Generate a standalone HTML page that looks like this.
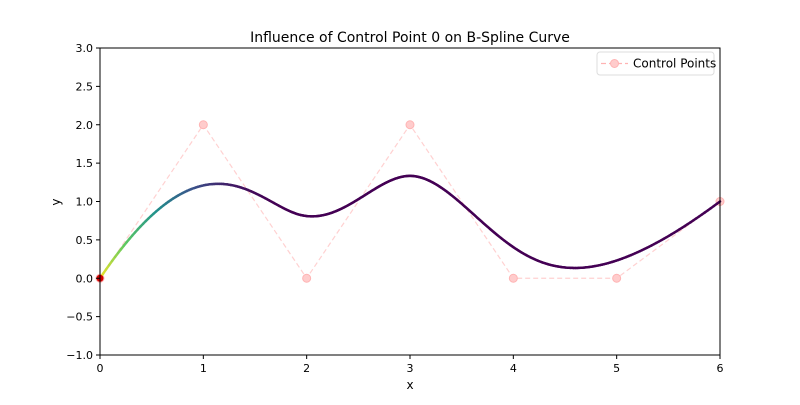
<!DOCTYPE html>
<html><head><meta charset="utf-8"><style>
body{margin:0;background:#fff;font-family:"Liberation Sans","DejaVu Sans",sans-serif}
svg text{font-family:"DejaVu Sans","Liberation Sans",sans-serif;fill:#000}
</style></head><body>
<svg id="c" width="800" height="400" viewBox="0 0 800 400" xmlns="http://www.w3.org/2000/svg">
<rect width="800" height="400" fill="#fff"/>
</svg>
<script>
const ctrlX = [0, 1, 2, 3, 4, 5, 6];
const ctrlY = [0, 2, 0, 2, 0, 0, 1];
const xTicks = [0, 1, 2, 3, 4, 5, 6];
const yTicks = [-1.0, -0.5, 0.0, 0.5, 1.0, 1.5, 2.0, 2.5, 3.0];
const xMin=0,xMax=6,yMin=-1,yMax=3;
const L=100,R=720,T=48,B=355;
const sx=v=>L+(v-xMin)/(xMax-xMin)*(R-L);
const sy=v=>B-(v-yMin)/(yMax-yMin)*(B-T);
const svg=document.getElementById('c');
const NS='http://www.w3.org/2000/svg';
function mk(tag,attrs,parent){const e=document.createElementNS(NS,tag);for(const k in attrs)e.setAttribute(k,attrs[k]);(parent||svg).appendChild(e);return e;}

// clamped cubic B-spline
const n=ctrlX.length, p=3;
const knots=[];
for(let i=0;i<=p;i++)knots.push(0);
for(let i=1;i<n-p;i++)knots.push(i/(n-p));
for(let i=0;i<=p;i++)knots.push(1);
function basis(i,k,t){
  if(k===0){
    if(t===1) return (knots[i]<1&&knots[i+1]===1)?1:0;
    return (knots[i]<=t&&t<knots[i+1])?1:0;
  }
  let a=0,b=0;
  const d1=knots[i+k]-knots[i], d2=knots[i+k+1]-knots[i+1];
  if(d1>0)a=(t-knots[i])/d1*basis(i,k-1,t);
  if(d2>0)b=(knots[i+k+1]-t)/d2*basis(i+1,k-1,t);
  return a+b;
}
function viridis(v){
  const s=[[68,1,84],[59,82,139],[33,145,140],[94,201,98],[253,231,37]];
  v=Math.max(0,Math.min(1,v))*4;const i=Math.min(3,Math.floor(v)),f=v-i;
  const c=s[i].map((x,j)=>Math.round(x+(s[i+1][j]-x)*f));
  return `rgb(${c})`;
}

// control polygon
const pts=ctrlX.map((x,i)=>sx(x)+','+sy(ctrlY[i])).join(' ');
const poly=mk('polyline',{points:pts,fill:'none',stroke:'#ffb3b3','stroke-width':1.2,'stroke-dasharray':'5,3',opacity:0.6});


ctrlX.forEach((x,i)=>{
  const c=mk('circle',{cx:sx(x),cy:sy(ctrlY[i]),r:4,fill:'#ffcccc',stroke:'#ffb3b3'});
  
  
});

// curve
const g=mk('g',{});


const N=400;let prev=null;
for(let s=0;s<=N;s++){
  const t=s/N;let x=0,y=0;const w=[];
  for(let i=0;i<n;i++){const b=basis(i,p,t);w.push(b);x+=b*ctrlX[i];y+=b*ctrlY[i];}
  const P=[sx(x),sy(y),w[0]];
  if(prev){mk('line',{x1:prev[0],y1:prev[1],x2:P[0],y2:P[1],stroke:viridis(P[2]),'stroke-width':2.5,'stroke-linecap':'round'},g);}
  prev=P;
}
const hp=mk('circle',{cx:sx(ctrlX[0]),cy:sy(ctrlY[0]),r:3.5,fill:'#d00000'});



// axes frame
const fr=mk('rect',{x:L,y:T,width:R-L,height:B-T,fill:'none',stroke:'#000','stroke-width':1});


xTicks.forEach(v=>{
  mk('line',{x1:sx(v),x2:sx(v),y1:B,y2:B+4,stroke:'#000'});
  const t=mk('text',{x:sx(v),y:B+17,'text-anchor':'middle','font-size':11});t.textContent=v;
  
  
});
yTicks.forEach(v=>{
  mk('line',{x1:L-4,x2:L,y1:sy(v),y2:sy(v),stroke:'#000'});
  const t=mk('text',{x:L-7,y:sy(v)+4,'text-anchor':'end','font-size':11});t.textContent=(v<0?'\u2212':'')+Math.abs(v).toFixed(1);
  
  
});
let t=mk('text',{x:410,y:389,'text-anchor':'middle','font-size':12});t.textContent='x';


t=mk('text',{x:60,y:202,'text-anchor':'middle','font-size':12,transform:'rotate(-90 60 202)'});t.textContent='y';


t=mk('text',{x:410,y:42,'text-anchor':'middle','font-size':14});t.textContent='Influence of Control Point 0 on B-Spline Curve';



// legend
const lg=mk('g',{});


mk('rect',{x:597,y:52,width:117,height:23,rx:3,fill:'#fff',stroke:'#ddd'},lg);
mk('line',{x1:601,x2:628,y1:63.5,y2:63.5,stroke:'#ffb3b3','stroke-dasharray':'5,3','stroke-width':1.2},lg);
mk('circle',{cx:614.5,cy:63.5,r:4,fill:'#ffcccc',stroke:'#ffb3b3'},lg);
t=mk('text',{x:633,y:67.5,'font-size':12},lg);t.textContent='Control Points';


</script>
</body></html>
